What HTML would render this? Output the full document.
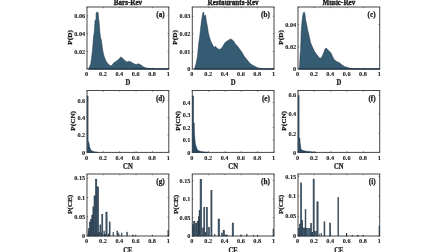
<!DOCTYPE html>
<html><head><meta charset="utf-8"><title>Figure</title>
<style>
html,body{margin:0;padding:0;background:#fff;}
body{width:448px;height:252px;overflow:hidden;}
svg{display:block;}
text{font-family:"Liberation Serif","Times New Roman",serif;font-weight:bold;fill:#1a1a1a;stroke:#1a1a1a;stroke-width:0.25px;}
text.t{stroke-width:0.1px;}
text.ti{stroke-width:0.38px;}
</style></head><body>
<svg width="448" height="252" viewBox="0 0 448 252">
<rect width="448" height="252" fill="#fff"/>
<rect x="87" y="7" width="81.8" height="62" fill="none" stroke="#474747" stroke-width="1.0"/>
<path d="M87 69V67.8M87 7V8.2" stroke="#474747" stroke-width="0.7"/>
<text class="t" transform="translate(86.6 76.33) scale(0.95 1)" text-anchor="middle" font-size="6.6">0</text>
<path d="M103.36 69V67.8M103.36 7V8.2" stroke="#474747" stroke-width="0.7"/>
<text class="t" transform="translate(102.96 76.33) scale(0.95 1)" text-anchor="middle" font-size="6.6">0.2</text>
<path d="M119.72 69V67.8M119.72 7V8.2" stroke="#474747" stroke-width="0.7"/>
<text class="t" transform="translate(119.32 76.33) scale(0.95 1)" text-anchor="middle" font-size="6.6">0.4</text>
<path d="M136.08 69V67.8M136.08 7V8.2" stroke="#474747" stroke-width="0.7"/>
<text class="t" transform="translate(135.68 76.33) scale(0.95 1)" text-anchor="middle" font-size="6.6">0.6</text>
<path d="M152.44 69V67.8M152.44 7V8.2" stroke="#474747" stroke-width="0.7"/>
<text class="t" transform="translate(152.04 76.33) scale(0.95 1)" text-anchor="middle" font-size="6.6">0.8</text>
<path d="M168.8 69V67.8M168.8 7V8.2" stroke="#474747" stroke-width="0.7"/>
<text class="t" transform="translate(168.4 76.33) scale(0.95 1)" text-anchor="middle" font-size="6.6">1</text>
<path d="M87 51.29H88.2M168.8 51.29H167.6" stroke="#474747" stroke-width="0.7"/>
<text class="t" transform="translate(85.2 53.52) scale(0.95 1)" text-anchor="end" font-size="6.6">0.02</text>
<path d="M87 33.57H88.2M168.8 33.57H167.6" stroke="#474747" stroke-width="0.7"/>
<text class="t" transform="translate(85.2 35.8) scale(0.95 1)" text-anchor="end" font-size="6.6">0.04</text>
<path d="M87 15.86H88.2M168.8 15.86H167.6" stroke="#474747" stroke-width="0.7"/>
<text class="t" transform="translate(85.2 18.09) scale(0.95 1)" text-anchor="end" font-size="6.6">0.06</text>
<path d="M88.6 69 L89.2 67.5 L90 65.5 L90.8 63.4 L91.7 57 L92.4 50.7 L93 44.3 L93.4 38 L94.2 32.4 L94.7 26 L95.1 20.5 L96 19.3 L96.1 13.2 L96.8 12.2 L97.8 12.2 L98.3 13.5 L98.5 19 L98.9 20 L99.4 26 L99.9 32.4 L100.6 38 L101.2 39.5 L101.8 43.1 L102.4 48.2 L103.3 53.2 L104.3 57 L105.6 60.2 L107.1 62.7 L108.8 64.6 L110.7 65.9 L112 65.3 L113.9 62.7 L115.1 62.1 L117 60.8 L118.9 58.9 L120.8 57 L122.1 57.7 L124 59.6 L125.2 60.9 L127.1 61.9 L129.7 61.2 L132.2 62.8 L134.8 64.2 L136.5 64.4 L138.5 63.8 L141 65 L143.6 67 L146.2 68 L151.2 68.7 L158 68.9 L168.8 69 L168.8 69 Z" fill="#365c73" stroke="#1c3044" stroke-width="0.5" stroke-linejoin="round"/>
<path d="M88.6 69H168.8" stroke="#1c3044" stroke-width="1"/>
<text transform="translate(164.7 17.08)" text-anchor="end" font-size="7.2">(a)</text>
<text transform="translate(127.9 85.32) scale(0.88 1)" text-anchor="middle" font-size="7.6">D</text>
<text transform="translate(71.5 37.4) rotate(-90) scale(1.04 1)" text-anchor="middle" font-size="7">P(D)</text>
<text class="ti" transform="translate(127.9 5.3) scale(0.83 1)" text-anchor="middle" font-size="8.6">Bars-Rev</text>
<rect x="192.3" y="7" width="81.7" height="62" fill="none" stroke="#474747" stroke-width="1.0"/>
<path d="M192.3 69V67.8M192.3 7V8.2" stroke="#474747" stroke-width="0.7"/>
<text class="t" transform="translate(191.9 76.33) scale(0.95 1)" text-anchor="middle" font-size="6.6">0</text>
<path d="M208.64 69V67.8M208.64 7V8.2" stroke="#474747" stroke-width="0.7"/>
<text class="t" transform="translate(208.24 76.33) scale(0.95 1)" text-anchor="middle" font-size="6.6">0.2</text>
<path d="M224.98 69V67.8M224.98 7V8.2" stroke="#474747" stroke-width="0.7"/>
<text class="t" transform="translate(224.58 76.33) scale(0.95 1)" text-anchor="middle" font-size="6.6">0.4</text>
<path d="M241.32 69V67.8M241.32 7V8.2" stroke="#474747" stroke-width="0.7"/>
<text class="t" transform="translate(240.92 76.33) scale(0.95 1)" text-anchor="middle" font-size="6.6">0.6</text>
<path d="M257.66 69V67.8M257.66 7V8.2" stroke="#474747" stroke-width="0.7"/>
<text class="t" transform="translate(257.26 76.33) scale(0.95 1)" text-anchor="middle" font-size="6.6">0.8</text>
<path d="M274 69V67.8M274 7V8.2" stroke="#474747" stroke-width="0.7"/>
<text class="t" transform="translate(273.6 76.33) scale(0.95 1)" text-anchor="middle" font-size="6.6">1</text>
<path d="M192.3 69H193.5M274 69H272.8" stroke="#474747" stroke-width="0.7"/>
<text class="t" transform="translate(190.5 71.23) scale(0.95 1)" text-anchor="end" font-size="6.6">0</text>
<path d="M192.3 51.42H193.5M274 51.42H272.8" stroke="#474747" stroke-width="0.7"/>
<text class="t" transform="translate(190.5 53.65) scale(0.95 1)" text-anchor="end" font-size="6.6">0.01</text>
<path d="M192.3 33.84H193.5M274 33.84H272.8" stroke="#474747" stroke-width="0.7"/>
<text class="t" transform="translate(190.5 36.07) scale(0.95 1)" text-anchor="end" font-size="6.6">0.02</text>
<path d="M192.3 16.26H193.5M274 16.26H272.8" stroke="#474747" stroke-width="0.7"/>
<text class="t" transform="translate(190.5 18.49) scale(0.95 1)" text-anchor="end" font-size="6.6">0.03</text>
<path d="M194.5 69 L196.1 63.4 L197.4 57 L198 50.7 L198.6 44.3 L199.5 38 L200.2 32.4 L200.9 26 L201.7 19.7 L202.5 14.8 L203 12.4 L203.7 12.3 L204.1 15.8 L204.7 16.2 L205.2 15.1 L205.7 15.5 L206.1 19.7 L207.3 26 L208.3 32.4 L209.6 38 L210.2 39.3 L211 41.8 L212 43.7 L213 45.6 L213.8 46.9 L214.9 47.3 L215.6 46.3 L216.4 47.8 L217.4 48.2 L218.7 49.2 L219.7 49.4 L220.6 48.8 L221.8 47.9 L223.1 45.8 L225 42.7 L227.5 40.8 L230.7 38.9 L233.4 40.7 L235.4 44.1 L237.4 46.1 L239.4 48.8 L241.5 51.5 L244.2 56.3 L246.9 59.6 L249.6 63 L252.3 65 L255 66.4 L257.7 67.8 L260.4 68.4 L264.9 68.9 L274 69 L274 69 Z" fill="#365c73" stroke="#1c3044" stroke-width="0.5" stroke-linejoin="round"/>
<path d="M194.5 69H274" stroke="#1c3044" stroke-width="1"/>
<text transform="translate(269.9 17.08)" text-anchor="end" font-size="7.2">(b)</text>
<text transform="translate(233.15 85.32) scale(0.88 1)" text-anchor="middle" font-size="7.6">D</text>
<text transform="translate(177.1 37.4) rotate(-90) scale(1.04 1)" text-anchor="middle" font-size="7">P(D)</text>
<text class="ti" transform="translate(233.15 5.3) scale(0.83 1)" text-anchor="middle" font-size="8.6">Restaurants-Rev</text>
<rect x="298" y="7" width="81.7" height="62" fill="none" stroke="#474747" stroke-width="1.0"/>
<path d="M298 69V67.8M298 7V8.2" stroke="#474747" stroke-width="0.7"/>
<text class="t" transform="translate(297.6 76.33) scale(0.95 1)" text-anchor="middle" font-size="6.6">0</text>
<path d="M314.34 69V67.8M314.34 7V8.2" stroke="#474747" stroke-width="0.7"/>
<text class="t" transform="translate(313.94 76.33) scale(0.95 1)" text-anchor="middle" font-size="6.6">0.2</text>
<path d="M330.68 69V67.8M330.68 7V8.2" stroke="#474747" stroke-width="0.7"/>
<text class="t" transform="translate(330.28 76.33) scale(0.95 1)" text-anchor="middle" font-size="6.6">0.4</text>
<path d="M347.02 69V67.8M347.02 7V8.2" stroke="#474747" stroke-width="0.7"/>
<text class="t" transform="translate(346.62 76.33) scale(0.95 1)" text-anchor="middle" font-size="6.6">0.6</text>
<path d="M363.36 69V67.8M363.36 7V8.2" stroke="#474747" stroke-width="0.7"/>
<text class="t" transform="translate(362.96 76.33) scale(0.95 1)" text-anchor="middle" font-size="6.6">0.8</text>
<path d="M379.7 69V67.8M379.7 7V8.2" stroke="#474747" stroke-width="0.7"/>
<text class="t" transform="translate(379.3 76.33) scale(0.95 1)" text-anchor="middle" font-size="6.6">1</text>
<path d="M298 69H299.2M379.7 69H378.5" stroke="#474747" stroke-width="0.7"/>
<text class="t" transform="translate(296.2 71.23) scale(0.95 1)" text-anchor="end" font-size="6.6">0</text>
<path d="M298 46.74H299.2M379.7 46.74H378.5" stroke="#474747" stroke-width="0.7"/>
<text class="t" transform="translate(296.2 48.97) scale(0.95 1)" text-anchor="end" font-size="6.6">0.02</text>
<path d="M298 24.48H299.2M379.7 24.48H378.5" stroke="#474747" stroke-width="0.7"/>
<text class="t" transform="translate(296.2 26.71) scale(0.95 1)" text-anchor="end" font-size="6.6">0.04</text>
<path d="M299.3 69 L299.7 64 L300.2 53.2 L300.6 50.7 L300.8 44 L301 38.7 L301.2 32.4 L301.6 26 L302.2 19.7 L302.8 15.5 L303.5 12.6 L304.3 12.1 L305 14.6 L305.6 19.7 L306.2 22.4 L307 26.5 L307.8 30.6 L309.3 36.8 L310.7 43 L312.4 47.1 L314.4 51.2 L316.5 54.3 L318.6 57 L320.2 58.4 L322.1 56.4 L324 52 L324.9 49.3 L325.8 48.3 L326.8 48.6 L327.8 49.8 L329.7 51.6 L331 53 L332.3 55.9 L334.2 59.7 L336.7 61.6 L339.2 62.6 L341.8 64.8 L344.3 66.4 L346.9 67.3 L349.4 68.1 L353.2 68.8 L360 69 L379.7 69 L379.7 69 Z" fill="#365c73" stroke="#1c3044" stroke-width="0.5" stroke-linejoin="round"/>
<path d="M299.3 69H379.7" stroke="#1c3044" stroke-width="1"/>
<text transform="translate(375.6 17.08)" text-anchor="end" font-size="7.2">(c)</text>
<text transform="translate(338.85 85.32) scale(0.88 1)" text-anchor="middle" font-size="7.6">D</text>
<text transform="translate(282.7 37.4) rotate(-90) scale(1.04 1)" text-anchor="middle" font-size="7">P(D)</text>
<text class="ti" transform="translate(338.85 5.3) scale(0.83 1)" text-anchor="middle" font-size="8.6">Music-Rev</text>
<rect x="87" y="90.5" width="81.8" height="61.9" fill="none" stroke="#474747" stroke-width="1.0"/>
<path d="M87 152.4V151.2M87 90.5V91.7" stroke="#474747" stroke-width="0.7"/>
<text class="t" transform="translate(86.6 159.73) scale(0.95 1)" text-anchor="middle" font-size="6.6">0</text>
<path d="M103.36 152.4V151.2M103.36 90.5V91.7" stroke="#474747" stroke-width="0.7"/>
<text class="t" transform="translate(102.96 159.73) scale(0.95 1)" text-anchor="middle" font-size="6.6">0.2</text>
<path d="M119.72 152.4V151.2M119.72 90.5V91.7" stroke="#474747" stroke-width="0.7"/>
<text class="t" transform="translate(119.32 159.73) scale(0.95 1)" text-anchor="middle" font-size="6.6">0.4</text>
<path d="M136.08 152.4V151.2M136.08 90.5V91.7" stroke="#474747" stroke-width="0.7"/>
<text class="t" transform="translate(135.68 159.73) scale(0.95 1)" text-anchor="middle" font-size="6.6">0.6</text>
<path d="M152.44 152.4V151.2M152.44 90.5V91.7" stroke="#474747" stroke-width="0.7"/>
<text class="t" transform="translate(152.04 159.73) scale(0.95 1)" text-anchor="middle" font-size="6.6">0.8</text>
<path d="M168.8 152.4V151.2M168.8 90.5V91.7" stroke="#474747" stroke-width="0.7"/>
<text class="t" transform="translate(168.4 159.73) scale(0.95 1)" text-anchor="middle" font-size="6.6">1</text>
<path d="M87 152.4H88.2M168.8 152.4H167.6" stroke="#474747" stroke-width="0.7"/>
<text class="t" transform="translate(85.2 154.63) scale(0.95 1)" text-anchor="end" font-size="6.6">0</text>
<path d="M87 135.03H88.2M168.8 135.03H167.6" stroke="#474747" stroke-width="0.7"/>
<text class="t" transform="translate(85.2 137.26) scale(0.95 1)" text-anchor="end" font-size="6.6">0.2</text>
<path d="M87 117.66H88.2M168.8 117.66H167.6" stroke="#474747" stroke-width="0.7"/>
<text class="t" transform="translate(85.2 119.89) scale(0.95 1)" text-anchor="end" font-size="6.6">0.4</text>
<path d="M87 100.3H88.2M168.8 100.3H167.6" stroke="#474747" stroke-width="0.7"/>
<text class="t" transform="translate(85.2 102.53) scale(0.95 1)" text-anchor="end" font-size="6.6">0.6</text>
<path d="M87.3 152.4 L87.3 95.9 L88.1 95.9 L88.1 140.6 L88.8 142.5 L89.5 146.6 L90.4 149 L91.3 150.4 L93 151.4 L95 152 L98 152.4 L98 152.4 Z" fill="#2a4b64" stroke="#1c3044" stroke-width="0.5" stroke-linejoin="round"/>
<text transform="translate(164.7 100.58)" text-anchor="end" font-size="7.2">(d)</text>
<text transform="translate(127.9 168.72) scale(0.88 1)" text-anchor="middle" font-size="7.6">CN</text>
<text transform="translate(74.5 120.85) rotate(-90) scale(1.04 1)" text-anchor="middle" font-size="7">P(CN)</text>
<rect x="192.3" y="90.5" width="81.7" height="61.9" fill="none" stroke="#474747" stroke-width="1.0"/>
<path d="M192.3 152.4V151.2M192.3 90.5V91.7" stroke="#474747" stroke-width="0.7"/>
<text class="t" transform="translate(191.9 159.73) scale(0.95 1)" text-anchor="middle" font-size="6.6">0</text>
<path d="M208.64 152.4V151.2M208.64 90.5V91.7" stroke="#474747" stroke-width="0.7"/>
<text class="t" transform="translate(208.24 159.73) scale(0.95 1)" text-anchor="middle" font-size="6.6">0.2</text>
<path d="M224.98 152.4V151.2M224.98 90.5V91.7" stroke="#474747" stroke-width="0.7"/>
<text class="t" transform="translate(224.58 159.73) scale(0.95 1)" text-anchor="middle" font-size="6.6">0.4</text>
<path d="M241.32 152.4V151.2M241.32 90.5V91.7" stroke="#474747" stroke-width="0.7"/>
<text class="t" transform="translate(240.92 159.73) scale(0.95 1)" text-anchor="middle" font-size="6.6">0.6</text>
<path d="M257.66 152.4V151.2M257.66 90.5V91.7" stroke="#474747" stroke-width="0.7"/>
<text class="t" transform="translate(257.26 159.73) scale(0.95 1)" text-anchor="middle" font-size="6.6">0.8</text>
<path d="M274 152.4V151.2M274 90.5V91.7" stroke="#474747" stroke-width="0.7"/>
<text class="t" transform="translate(273.6 159.73) scale(0.95 1)" text-anchor="middle" font-size="6.6">1</text>
<path d="M192.3 152.4H193.5M274 152.4H272.8" stroke="#474747" stroke-width="0.7"/>
<text class="t" transform="translate(190.5 154.63) scale(0.95 1)" text-anchor="end" font-size="6.6">0</text>
<path d="M192.3 139.95H193.5M274 139.95H272.8" stroke="#474747" stroke-width="0.7"/>
<text class="t" transform="translate(190.5 142.18) scale(0.95 1)" text-anchor="end" font-size="6.6">0.1</text>
<path d="M192.3 127.49H193.5M274 127.49H272.8" stroke="#474747" stroke-width="0.7"/>
<text class="t" transform="translate(190.5 129.72) scale(0.95 1)" text-anchor="end" font-size="6.6">0.2</text>
<path d="M192.3 115.04H193.5M274 115.04H272.8" stroke="#474747" stroke-width="0.7"/>
<text class="t" transform="translate(190.5 117.27) scale(0.95 1)" text-anchor="end" font-size="6.6">0.3</text>
<path d="M192.3 102.58H193.5M274 102.58H272.8" stroke="#474747" stroke-width="0.7"/>
<text class="t" transform="translate(190.5 104.81) scale(0.95 1)" text-anchor="end" font-size="6.6">0.4</text>
<path d="M192.6 152.4 L192.6 95.9 L193.5 95.9 L193.5 123 L194.3 123 L194.3 127.5 L194.5 134.3 L195 140.6 L195.5 144.5 L196.2 146.6 L197.3 149.6 L198.5 150.8 L201 151.6 L204 152 L208 152.4 L208 152.4 Z" fill="#2a4b64" stroke="#1c3044" stroke-width="0.5" stroke-linejoin="round"/>
<text transform="translate(269.9 100.58)" text-anchor="end" font-size="7.2">(e)</text>
<text transform="translate(233.15 168.72) scale(0.88 1)" text-anchor="middle" font-size="7.6">CN</text>
<text transform="translate(180.3 120.85) rotate(-90) scale(1.04 1)" text-anchor="middle" font-size="7">P(CN)</text>
<rect x="298" y="90.5" width="81.7" height="61.9" fill="none" stroke="#474747" stroke-width="1.0"/>
<path d="M298 152.4V151.2M298 90.5V91.7" stroke="#474747" stroke-width="0.7"/>
<text class="t" transform="translate(297.6 159.73) scale(0.95 1)" text-anchor="middle" font-size="6.6">0</text>
<path d="M314.34 152.4V151.2M314.34 90.5V91.7" stroke="#474747" stroke-width="0.7"/>
<text class="t" transform="translate(313.94 159.73) scale(0.95 1)" text-anchor="middle" font-size="6.6">0.2</text>
<path d="M330.68 152.4V151.2M330.68 90.5V91.7" stroke="#474747" stroke-width="0.7"/>
<text class="t" transform="translate(330.28 159.73) scale(0.95 1)" text-anchor="middle" font-size="6.6">0.4</text>
<path d="M347.02 152.4V151.2M347.02 90.5V91.7" stroke="#474747" stroke-width="0.7"/>
<text class="t" transform="translate(346.62 159.73) scale(0.95 1)" text-anchor="middle" font-size="6.6">0.6</text>
<path d="M363.36 152.4V151.2M363.36 90.5V91.7" stroke="#474747" stroke-width="0.7"/>
<text class="t" transform="translate(362.96 159.73) scale(0.95 1)" text-anchor="middle" font-size="6.6">0.8</text>
<path d="M379.7 152.4V151.2M379.7 90.5V91.7" stroke="#474747" stroke-width="0.7"/>
<text class="t" transform="translate(379.3 159.73) scale(0.95 1)" text-anchor="middle" font-size="6.6">1</text>
<path d="M298 152.4H299.2M379.7 152.4H378.5" stroke="#474747" stroke-width="0.7"/>
<text class="t" transform="translate(296.2 154.63) scale(0.95 1)" text-anchor="end" font-size="6.6">0</text>
<path d="M298 133.27H299.2M379.7 133.27H378.5" stroke="#474747" stroke-width="0.7"/>
<text class="t" transform="translate(296.2 135.5) scale(0.95 1)" text-anchor="end" font-size="6.6">0.2</text>
<path d="M298 114.13H299.2M379.7 114.13H378.5" stroke="#474747" stroke-width="0.7"/>
<text class="t" transform="translate(296.2 116.36) scale(0.95 1)" text-anchor="end" font-size="6.6">0.4</text>
<path d="M298 95H299.2M379.7 95H378.5" stroke="#474747" stroke-width="0.7"/>
<text class="t" transform="translate(296.2 97.23) scale(0.95 1)" text-anchor="end" font-size="6.6">0.6</text>
<path d="M298.3 152.4 L298.3 95.6 L299.1 95.6 L299.1 138.1 L299.9 138.1 L300.1 143 L300.5 146 L300.9 148.5 L301.3 149.8 L303 150.6 L306 151.2 L311 151.8 L316 152.4 L316 152.4 Z" fill="#2a4b64" stroke="#1c3044" stroke-width="0.5" stroke-linejoin="round"/>
<text transform="translate(375.6 100.58)" text-anchor="end" font-size="7.2">(f)</text>
<text transform="translate(338.85 168.72) scale(0.88 1)" text-anchor="middle" font-size="7.6">CN</text>
<text transform="translate(285.8 120.85) rotate(-90) scale(1.04 1)" text-anchor="middle" font-size="7">P(CN)</text>
<rect x="87" y="174" width="81.8" height="62" fill="none" stroke="#474747" stroke-width="1.0"/>
<path d="M87 236V234.8M87 174V175.2" stroke="#474747" stroke-width="0.7"/>
<text class="t" transform="translate(86.6 243.33) scale(0.95 1)" text-anchor="middle" font-size="6.6">0</text>
<path d="M103.36 236V234.8M103.36 174V175.2" stroke="#474747" stroke-width="0.7"/>
<text class="t" transform="translate(102.96 243.33) scale(0.95 1)" text-anchor="middle" font-size="6.6">0.2</text>
<path d="M119.72 236V234.8M119.72 174V175.2" stroke="#474747" stroke-width="0.7"/>
<text class="t" transform="translate(119.32 243.33) scale(0.95 1)" text-anchor="middle" font-size="6.6">0.4</text>
<path d="M136.08 236V234.8M136.08 174V175.2" stroke="#474747" stroke-width="0.7"/>
<text class="t" transform="translate(135.68 243.33) scale(0.95 1)" text-anchor="middle" font-size="6.6">0.6</text>
<path d="M152.44 236V234.8M152.44 174V175.2" stroke="#474747" stroke-width="0.7"/>
<text class="t" transform="translate(152.04 243.33) scale(0.95 1)" text-anchor="middle" font-size="6.6">0.8</text>
<path d="M168.8 236V234.8M168.8 174V175.2" stroke="#474747" stroke-width="0.7"/>
<text class="t" transform="translate(168.4 243.33) scale(0.95 1)" text-anchor="middle" font-size="6.6">1</text>
<path d="M87 236H88.2M168.8 236H167.6" stroke="#474747" stroke-width="0.7"/>
<text class="t" transform="translate(85.2 238.23) scale(0.95 1)" text-anchor="end" font-size="6.6">0</text>
<path d="M87 216.75H88.2M168.8 216.75H167.6" stroke="#474747" stroke-width="0.7"/>
<text class="t" transform="translate(85.2 218.98) scale(0.95 1)" text-anchor="end" font-size="6.6">0.05</text>
<path d="M87 197.49H88.2M168.8 197.49H167.6" stroke="#474747" stroke-width="0.7"/>
<text class="t" transform="translate(85.2 199.72) scale(0.95 1)" text-anchor="end" font-size="6.6">0.1</text>
<path d="M87 178.24H88.2M168.8 178.24H167.6" stroke="#474747" stroke-width="0.7"/>
<text class="t" transform="translate(85.2 180.47) scale(0.95 1)" text-anchor="end" font-size="6.6">0.15</text>
<rect x="88.1" y="231" width="0.4" height="5" fill="#4a6478" stroke="#17283a" stroke-width="0.55"/>
<rect x="88.7" y="228.6" width="0.5" height="7.4" fill="#4a6478" stroke="#17283a" stroke-width="0.55"/>
<rect x="89.4" y="222" width="1" height="14" fill="#4a6478" stroke="#17283a" stroke-width="0.55"/>
<rect x="90.6" y="219.6" width="1" height="16.4" fill="#4a6478" stroke="#17283a" stroke-width="0.55"/>
<rect x="91.8" y="215" width="0.9" height="21" fill="#4a6478" stroke="#17283a" stroke-width="0.55"/>
<rect x="92.9" y="206.8" width="0.9" height="29.2" fill="#4a6478" stroke="#17283a" stroke-width="0.55"/>
<rect x="94" y="195.9" width="1.3" height="40.1" fill="#4a6478" stroke="#17283a" stroke-width="0.55"/>
<rect x="95.5" y="179.2" width="1.3" height="56.8" fill="#4a6478" stroke="#17283a" stroke-width="0.55"/>
<rect x="97" y="186.9" width="1.6" height="49.1" fill="#4a6478" stroke="#17283a" stroke-width="0.55"/>
<rect x="98.8" y="232.5" width="0.8" height="3.5" fill="#4a6478" stroke="#17283a" stroke-width="0.55"/>
<rect x="99.9" y="224.9" width="0.9" height="11.1" fill="#4a6478" stroke="#17283a" stroke-width="0.55"/>
<rect x="101.2" y="233" width="0.5" height="3" fill="#4a6478" stroke="#17283a" stroke-width="0.55"/>
<rect x="101.8" y="214.3" width="1" height="21.7" fill="#4a6478" stroke="#17283a" stroke-width="0.55"/>
<rect x="103.9" y="231" width="0.5" height="5" fill="#4a6478" stroke="#17283a" stroke-width="0.55"/>
<rect x="104.6" y="234.5" width="1.1" height="1.5" fill="#4a6478" stroke="#17283a" stroke-width="0.55"/>
<rect x="105.9" y="212.1" width="1.2" height="23.9" fill="#4a6478" stroke="#17283a" stroke-width="0.55"/>
<rect x="108" y="234" width="1" height="2" fill="#4a6478" stroke="#17283a" stroke-width="0.55"/>
<rect x="109.2" y="221.9" width="0.9" height="14.1" fill="#4a6478" stroke="#17283a" stroke-width="0.55"/>
<rect x="113" y="232.5" width="0.6" height="3.5" fill="#4a6478" stroke="#17283a" stroke-width="0.55"/>
<rect x="116.9" y="231" width="0.8" height="5" fill="#4a6478" stroke="#17283a" stroke-width="0.55"/>
<rect x="118.4" y="233" width="0.5" height="3" fill="#4a6478" stroke="#17283a" stroke-width="0.55"/>
<rect x="121.4" y="233" width="0.6" height="3" fill="#4a6478" stroke="#17283a" stroke-width="0.55"/>
<rect x="126.8" y="232.1" width="0.6" height="3.9" fill="#4a6478" stroke="#17283a" stroke-width="0.55"/>
<rect x="132.6" y="235" width="0.5" height="1" fill="#4a6478" stroke="#17283a" stroke-width="0.55"/>
<rect x="135.1" y="235" width="0.5" height="1" fill="#4a6478" stroke="#17283a" stroke-width="0.55"/>
<rect x="152.1" y="235.2" width="0.4" height="0.8" fill="#4a6478" stroke="#17283a" stroke-width="0.55"/>
<rect x="167.9" y="230.7" width="0.6" height="5.3" fill="#4a6478" stroke="#17283a" stroke-width="0.55"/>
<text transform="translate(164.7 184.08)" text-anchor="end" font-size="7.2">(g)</text>
<text transform="translate(127.9 253.22) scale(0.88 1)" text-anchor="middle" font-size="7.6">CE</text>
<text transform="translate(71.7 204.4) rotate(-90) scale(1.04 1)" text-anchor="middle" font-size="7">P(CE)</text>
<rect x="192.3" y="174" width="81.7" height="62" fill="none" stroke="#474747" stroke-width="1.0"/>
<path d="M192.3 236V234.8M192.3 174V175.2" stroke="#474747" stroke-width="0.7"/>
<text class="t" transform="translate(191.9 243.33) scale(0.95 1)" text-anchor="middle" font-size="6.6">0</text>
<path d="M208.64 236V234.8M208.64 174V175.2" stroke="#474747" stroke-width="0.7"/>
<text class="t" transform="translate(208.24 243.33) scale(0.95 1)" text-anchor="middle" font-size="6.6">0.2</text>
<path d="M224.98 236V234.8M224.98 174V175.2" stroke="#474747" stroke-width="0.7"/>
<text class="t" transform="translate(224.58 243.33) scale(0.95 1)" text-anchor="middle" font-size="6.6">0.4</text>
<path d="M241.32 236V234.8M241.32 174V175.2" stroke="#474747" stroke-width="0.7"/>
<text class="t" transform="translate(240.92 243.33) scale(0.95 1)" text-anchor="middle" font-size="6.6">0.6</text>
<path d="M257.66 236V234.8M257.66 174V175.2" stroke="#474747" stroke-width="0.7"/>
<text class="t" transform="translate(257.26 243.33) scale(0.95 1)" text-anchor="middle" font-size="6.6">0.8</text>
<path d="M274 236V234.8M274 174V175.2" stroke="#474747" stroke-width="0.7"/>
<text class="t" transform="translate(273.6 243.33) scale(0.95 1)" text-anchor="middle" font-size="6.6">1</text>
<path d="M192.3 236H193.5M274 236H272.8" stroke="#474747" stroke-width="0.7"/>
<text class="t" transform="translate(190.5 238.23) scale(0.95 1)" text-anchor="end" font-size="6.6">0</text>
<path d="M192.3 217.55H193.5M274 217.55H272.8" stroke="#474747" stroke-width="0.7"/>
<text class="t" transform="translate(190.5 219.78) scale(0.95 1)" text-anchor="end" font-size="6.6">0.05</text>
<path d="M192.3 199.1H193.5M274 199.1H272.8" stroke="#474747" stroke-width="0.7"/>
<text class="t" transform="translate(190.5 201.33) scale(0.95 1)" text-anchor="end" font-size="6.6">0.1</text>
<path d="M192.3 180.64H193.5M274 180.64H272.8" stroke="#474747" stroke-width="0.7"/>
<text class="t" transform="translate(190.5 182.87) scale(0.95 1)" text-anchor="end" font-size="6.6">0.15</text>
<rect x="192.5" y="224.8" width="0.9" height="11.2" fill="#4a6478" stroke="#17283a" stroke-width="0.55"/>
<rect x="193.6" y="221.5" width="1.3" height="14.5" fill="#4a6478" stroke="#17283a" stroke-width="0.55"/>
<rect x="195.1" y="223.7" width="1.8" height="12.3" fill="#4a6478" stroke="#17283a" stroke-width="0.55"/>
<rect x="197.1" y="221.5" width="1.2" height="14.5" fill="#4a6478" stroke="#17283a" stroke-width="0.55"/>
<rect x="198.5" y="216.5" width="0.4" height="19.5" fill="#4a6478" stroke="#17283a" stroke-width="0.55"/>
<rect x="199.1" y="210.5" width="0.8" height="25.5" fill="#4a6478" stroke="#17283a" stroke-width="0.55"/>
<rect x="200.1" y="179.3" width="1.5" height="56.7" fill="#4a6478" stroke="#17283a" stroke-width="0.55"/>
<rect x="202.5" y="228" width="0.8" height="8" fill="#4a6478" stroke="#17283a" stroke-width="0.55"/>
<rect x="203.8" y="207.5" width="1" height="28.5" fill="#4a6478" stroke="#17283a" stroke-width="0.55"/>
<rect x="205.3" y="232.4" width="0.6" height="3.6" fill="#4a6478" stroke="#17283a" stroke-width="0.55"/>
<rect x="206.4" y="207.5" width="1" height="28.5" fill="#4a6478" stroke="#17283a" stroke-width="0.55"/>
<rect x="208.5" y="227.5" width="0.9" height="8.5" fill="#4a6478" stroke="#17283a" stroke-width="0.55"/>
<rect x="210.9" y="190.5" width="1.1" height="45.5" fill="#4a6478" stroke="#17283a" stroke-width="0.55"/>
<rect x="214.5" y="234.2" width="0.5" height="1.8" fill="#4a6478" stroke="#17283a" stroke-width="0.55"/>
<rect x="218.1" y="219" width="1.4" height="17" fill="#4a6478" stroke="#17283a" stroke-width="0.55"/>
<rect x="221.5" y="233" width="0.7" height="3" fill="#4a6478" stroke="#17283a" stroke-width="0.55"/>
<rect x="223.1" y="230.3" width="1.3" height="5.7" fill="#4a6478" stroke="#17283a" stroke-width="0.55"/>
<rect x="225.3" y="235" width="2.2" height="1" fill="#4a6478" stroke="#17283a" stroke-width="0.55"/>
<rect x="232.2" y="223" width="1.3" height="13" fill="#4a6478" stroke="#17283a" stroke-width="0.55"/>
<rect x="240.6" y="235" width="0.5" height="1" fill="#4a6478" stroke="#17283a" stroke-width="0.55"/>
<rect x="246.6" y="234.5" width="0.5" height="1.5" fill="#4a6478" stroke="#17283a" stroke-width="0.55"/>
<rect x="253.3" y="235.2" width="0.5" height="0.8" fill="#4a6478" stroke="#17283a" stroke-width="0.55"/>
<rect x="257.3" y="235.2" width="0.5" height="0.8" fill="#4a6478" stroke="#17283a" stroke-width="0.55"/>
<rect x="273" y="229.1" width="0.7" height="6.9" fill="#4a6478" stroke="#17283a" stroke-width="0.55"/>
<text transform="translate(269.9 184.08)" text-anchor="end" font-size="7.2">(h)</text>
<text transform="translate(233.15 253.22) scale(0.88 1)" text-anchor="middle" font-size="7.6">CE</text>
<text transform="translate(177.7 204.4) rotate(-90) scale(1.04 1)" text-anchor="middle" font-size="7">P(CE)</text>
<rect x="298" y="174" width="81.7" height="62" fill="none" stroke="#474747" stroke-width="1.0"/>
<path d="M298 236V234.8M298 174V175.2" stroke="#474747" stroke-width="0.7"/>
<text class="t" transform="translate(297.6 243.33) scale(0.95 1)" text-anchor="middle" font-size="6.6">0</text>
<path d="M314.34 236V234.8M314.34 174V175.2" stroke="#474747" stroke-width="0.7"/>
<text class="t" transform="translate(313.94 243.33) scale(0.95 1)" text-anchor="middle" font-size="6.6">0.2</text>
<path d="M330.68 236V234.8M330.68 174V175.2" stroke="#474747" stroke-width="0.7"/>
<text class="t" transform="translate(330.28 243.33) scale(0.95 1)" text-anchor="middle" font-size="6.6">0.4</text>
<path d="M347.02 236V234.8M347.02 174V175.2" stroke="#474747" stroke-width="0.7"/>
<text class="t" transform="translate(346.62 243.33) scale(0.95 1)" text-anchor="middle" font-size="6.6">0.6</text>
<path d="M363.36 236V234.8M363.36 174V175.2" stroke="#474747" stroke-width="0.7"/>
<text class="t" transform="translate(362.96 243.33) scale(0.95 1)" text-anchor="middle" font-size="6.6">0.8</text>
<path d="M379.7 236V234.8M379.7 174V175.2" stroke="#474747" stroke-width="0.7"/>
<text class="t" transform="translate(379.3 243.33) scale(0.95 1)" text-anchor="middle" font-size="6.6">1</text>
<path d="M298 236H299.2M379.7 236H378.5" stroke="#474747" stroke-width="0.7"/>
<text class="t" transform="translate(296.2 238.23) scale(0.95 1)" text-anchor="end" font-size="6.6">0</text>
<path d="M298 216.13H299.2M379.7 216.13H378.5" stroke="#474747" stroke-width="0.7"/>
<text class="t" transform="translate(296.2 218.36) scale(0.95 1)" text-anchor="end" font-size="6.6">0.05</text>
<path d="M298 196.26H299.2M379.7 196.26H378.5" stroke="#474747" stroke-width="0.7"/>
<text class="t" transform="translate(296.2 198.49) scale(0.95 1)" text-anchor="end" font-size="6.6">0.1</text>
<path d="M298 176.38H299.2M379.7 176.38H378.5" stroke="#474747" stroke-width="0.7"/>
<text class="t" transform="translate(296.2 178.62) scale(0.95 1)" text-anchor="end" font-size="6.6">0.15</text>
<rect x="298.4" y="228.7" width="0.8" height="7.3" fill="#4a6478" stroke="#17283a" stroke-width="0.55"/>
<rect x="299.4" y="224.1" width="0.8" height="11.9" fill="#4a6478" stroke="#17283a" stroke-width="0.55"/>
<rect x="300.6" y="182.9" width="1" height="53.1" fill="#4a6478" stroke="#17283a" stroke-width="0.55"/>
<rect x="301.8" y="220.4" width="0.9" height="15.6" fill="#4a6478" stroke="#17283a" stroke-width="0.55"/>
<rect x="302.9" y="228" width="2" height="8" fill="#4a6478" stroke="#17283a" stroke-width="0.55"/>
<rect x="305.1" y="209.6" width="0.8" height="26.4" fill="#4a6478" stroke="#17283a" stroke-width="0.55"/>
<rect x="306.1" y="228.5" width="4.1" height="7.5" fill="#4a6478" stroke="#17283a" stroke-width="0.55"/>
<rect x="310.7" y="223.4" width="0.9" height="12.6" fill="#4a6478" stroke="#17283a" stroke-width="0.55"/>
<rect x="311.8" y="232.4" width="1.1" height="3.6" fill="#4a6478" stroke="#17283a" stroke-width="0.55"/>
<rect x="313.1" y="179.1" width="1.1" height="56.9" fill="#4a6478" stroke="#17283a" stroke-width="0.55"/>
<rect x="314.5" y="231.7" width="1.8" height="4.3" fill="#4a6478" stroke="#17283a" stroke-width="0.55"/>
<rect x="316.9" y="201.8" width="1.2" height="34.2" fill="#4a6478" stroke="#17283a" stroke-width="0.55"/>
<rect x="319.4" y="234" width="0.5" height="2" fill="#4a6478" stroke="#17283a" stroke-width="0.55"/>
<rect x="321.1" y="233.5" width="0.5" height="2.5" fill="#4a6478" stroke="#17283a" stroke-width="0.55"/>
<rect x="324" y="221.8" width="0.9" height="14.2" fill="#4a6478" stroke="#17283a" stroke-width="0.55"/>
<rect x="329.7" y="223" width="0.9" height="13" fill="#4a6478" stroke="#17283a" stroke-width="0.55"/>
<rect x="337.9" y="197.7" width="0.8" height="38.3" fill="#4a6478" stroke="#17283a" stroke-width="0.55"/>
<rect x="346.3" y="233.5" width="0.5" height="2.5" fill="#4a6478" stroke="#17283a" stroke-width="0.55"/>
<rect x="352.1" y="235" width="0.5" height="1" fill="#4a6478" stroke="#17283a" stroke-width="0.55"/>
<rect x="357.7" y="235.3" width="0.5" height="0.7" fill="#4a6478" stroke="#17283a" stroke-width="0.55"/>
<rect x="362.9" y="235.3" width="0.5" height="0.7" fill="#4a6478" stroke="#17283a" stroke-width="0.55"/>
<rect x="379" y="226" width="0.6" height="10" fill="#4a6478" stroke="#17283a" stroke-width="0.55"/>
<text transform="translate(375.6 184.08)" text-anchor="end" font-size="7.2">(i)</text>
<text transform="translate(338.85 253.22) scale(0.88 1)" text-anchor="middle" font-size="7.6">CE</text>
<text transform="translate(283.3 204.4) rotate(-90) scale(1.04 1)" text-anchor="middle" font-size="7">P(CE)</text>
</svg>
</body></html>
